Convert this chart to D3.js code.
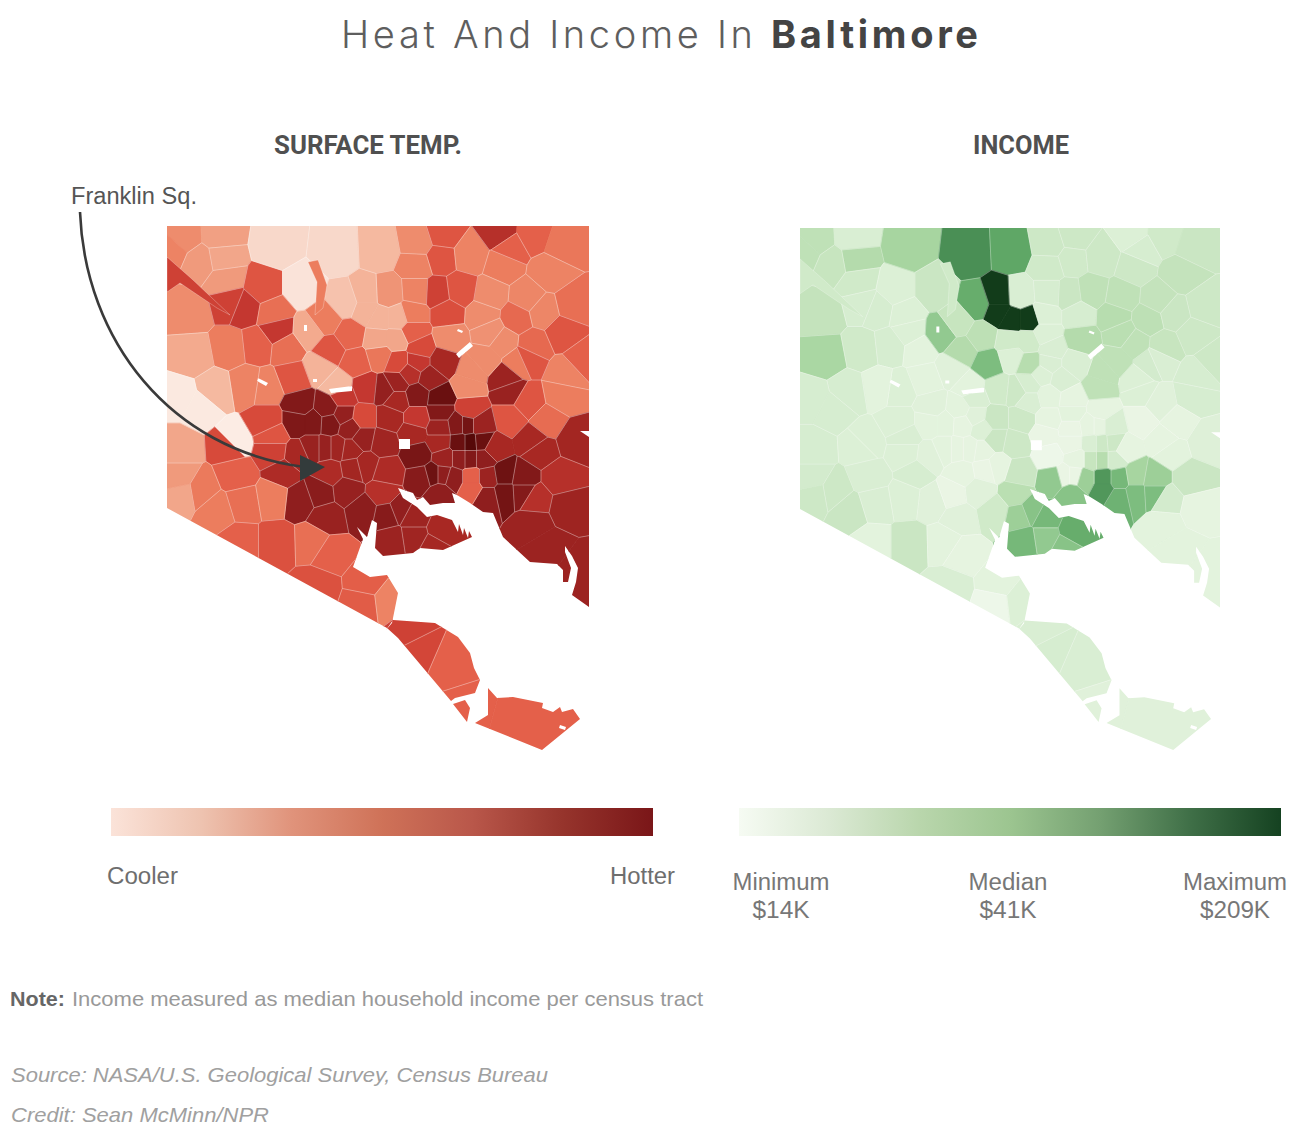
<!DOCTYPE html>
<html><head><meta charset="utf-8">
<script src="https://cdn.jsdelivr.net/npm/d3@7/dist/d3.min.js"></script>
<style>html,body{margin:0;padding:0;background:#fff}svg{display:block}</style>
</head><body><svg id="c" width="1296" height="1136"></svg>
<script>
// Census tract sample points (map units), with a relative heat index and income in $K
const tractX = [
183,172,220,222,200,225,263,277,337,380,302,
345,388,366,366,380,397,418,443,440,417,
470,500,533,503,510,563,550,573,527,490,417,437,460,413,
447,483,517,543,490,563,533,518,567,503,413,420,450,472,
417,443,410,430,527,505,510,527,563,583,417,440,440,470,
510,547,533,575,190,193,230,230,245,273,
277,257,287,309,320,338,293,267,247,215,180,200,233,180,
183,230,180,237,300,327,343,297,313,330,350,363,366,343,
385,397,397,390,363,383,417,440,413,440,418,458,467,480,
460,470,482,470,460,483,445,493,540,433,443,422,472,453,
487,505,522,505,487,522,472,440,560,535,567,533,578,548,
297,313,325,337,350,267,273,273,283,330,353,387,365,383,
300,320,347,327,363,387,400,413,393,413,443,433,
217,243,273,200,240,277,313,330,317,367,363,388,410,420,
450,465,520,
325,350,330,356,380,398,378,396,468,485];
const tractY = [
238,250,236,258,262,280,288,245,252,250,288,
302,294,295,310,318,318,243,235,258,265,
255,233,235,265,248,245,272,305,298,295,292,293,290,313,
313,315,318,312,332,332,345,362,375,342,332,348,338,372,
362,362,373,378,358,378,392,402,395,360,395,398,412,410,
418,422,440,440,312,355,348,302,308,313,
330,345,348,332,368,385,378,388,385,390,398,408,442,448,
493,445,478,475,405,408,415,422,422,423,428,418,388,397,
390,383,400,418,438,442,418,428,433,442,455,425,425,425,
443,443,442,458,458,458,458,448,450,475,475,478,478,478,
478,475,478,493,497,492,488,493,478,500,507,523,570,548,
455,448,448,448,450,422,435,452,472,472,468,472,465,493,
500,493,490,517,510,515,510,517,540,537,530,548,
510,502,497,490,543,543,542,553,587,583,603,600,630,650,
663,710,725,
320,335,350,362,355,362,340,340,385,360];
const tractHeat = [
3.5,3.8,2.8,2.6,3,3,5.5,1,1,2,0.6,
1.7,3.2,2.2,2.2,2.2,2.2,3.5,5.5,5.5,3.8,
3.8,7.5,5,4,5,4.2,3.8,4.5,3.7,3.5,3.8,6.5,5.5,4,
5.8,3.5,4.7,3.7,3.3,5.5,4.7,4,3.8,3.5,5,6,3.5,3.5,
7,8,7.5,8.5,5.5,8.5,8.6,5.5,4,5,9.5,10.5,9.5,6.5,
5.5,4.6,8,8.2,3.5,2.5,4,6.5,7,4.5,
7,5,4.5,2.5,2.2,2,5.5,3.8,3.8,2,0.4,0.4,0.3,2.6,
2.6,6,3,5,9.5,9.3,8.8,9.6,9.6,9.6,8.8,6,7,7,
8.8,8.5,8,8,8.7,8.3,7,8.5,8,8,9.8,9.5,10,8.5,
10.5,11.5,10.5,9.5,9,9,8.5,8,8,10.3,9,9.3,5,9,
8.5,10.3,9.5,10,9,9.4,5,9,7.5,7.5,8.4,8.5,8.5,8.5,
8,8.6,8.7,8.3,8.2,6,5.5,6.5,7.8,7.8,8.2,7.8,8.1,7.5,
9,9.2,8.7,8.6,9.1,9.3,8.9,8.4,8.5,8.3,8,8.1,
4,4.5,4,4.1,5,5.7,4.5,5,5.7,5.1,5.2,3.8,6.5,6.2,
5,5,5,
4,4.8,5.5,5,4.2,6,2.6,2.6,3.5,3.5];
const tractIncome = [
45,45,28,52,40,34,26,60,130,100,38,
95,28,209,209,209,209,36,36,34,34,
36,26,34,36,30,38,42,36,42,45,30,38,45,26,
30,50,46,38,48,36,40,32,30,45,26,28,52,45,
28,28,26,28,28,26,26,24,30,36,22,20,22,20,
18,20,20,25,42,58,34,30,30,26,
26,30,22,70,24,22,22,26,22,30,30,30,26,30,
36,26,32,28,24,22,24,22,22,20,26,38,34,28,
36,30,28,36,38,36,20,18,18,18,16,20,20,28,
28,36,36,50,40,32,20,20,22,18,18,70,120,65,
85,60,65,80,90,80,120,75,38,32,20,22,22,22,
24,22,20,20,20,26,28,26,30,20,18,38,20,48,
24,18,24,24,34,65,75,85,85,70,95,75,
38,28,26,36,22,38,22,20,28,22,16,26,28,30,
28,24,24,
40,46,52,80,26,50,34,34,45,45];

// Narrow tracts that a sample point cannot describe
const narrowShapes = [
  [[167,257],[193,280],[230,315],[217,308],[180,283],[167,292]],
  [[308,262],[318,260],[327,285],[323,308],[315,315],[317,282]]
];
const narrowHeat = [6.5,4], narrowIncome = [34,34];

// City outline, water and parks (map units)
const cityMain = [[167,226],[589,226],[589,431],[580,431],[589,437],[589,607],[572,595],[576,582],[578,568],[572,556],[565,546],[565,552],[571,568],[568,582],[563,582],[563,570],[557,564],[530,562],[517,550],[503,537],[493,513],[483,512],[470,503],[457,495],[452,493],[455,503],[443,503],[430,505],[423,497],[417,500],[413,493],[398,488],[403,498],[417,507],[427,517],[437,515],[452,520],[458,532],[459,524],[463,535],[464,528],[468,538],[469,531],[472,537],[443,550],[420,548],[413,553],[383,556],[375,548],[377,523],[372,520],[367,537],[357,527],[363,539],[353,567],[370,577],[387,575],[398,593],[392,623],[386,630],[393,620],[435,623],[458,637],[470,653],[474,668],[480,680],[475,693],[455,698],[451,701],[398,638],[387,628],[167,508]];
const cityIsland = [[453,704],[465,700],[470,708],[467,722]];
const citySouth = [[488,688],[497,698],[513,697],[543,703],[542,708],[553,712],[560,707],[562,712],[573,709],[580,719],[542,750],[475,723],[488,715]];
const parkHoles = [
[[456,354],[470,342],[473,346],[459,358]],
[[458,329],[463,331],[462,333],[457,331]],
[[258,378],[268,383],[266,386],[257,381]],
[[329,389],[352,386],[352,391],[331,393]],
[[313,379],[317,379],[317,382],[313,382]],
[[304,325],[307,325],[307,331],[304,331]],
[[399,439],[410,439],[410,449],[399,449]],
[[560,725],[566,727],[565,730],[559,728]]];

// Colour ramps
const heatStops = [0,1,2,3,4,5,6,7,8,9,10,11.5];
const heatColors = ["#fdf4ef","#f8d8ca","#f5b9a0","#f09a7c","#ec7d5e","#e4604a","#d74a3a","#c43730","#a82823","#8f1e1e","#741414","#560909"];
const incomeStops = [14,20,28,36,45,60,80,100,130,209];
const incomeColors = ["#f1f8ed","#e6f4e0","#d9eed3","#cde8c6","#bfe1b7","#a7d5a0","#7dbd7f","#5fa766","#4a8f55","#123c1a"];
const heatLegendColors = ["#fbe3d9","#eec3b0","#e0937b","#cf7258","#b9574a","#96342c","#7a1618"];
const incomeLegendColors = ["#f6fbf3","#dbe9d4","#b9d6ac","#9cc590","#74a071","#3f6f47","#154221"];

const titleLight = "Heat And Income In ", titleBold = "Baltimore";
const panelTitles = ["SURFACE TEMP.","INCOME"];
const heatLegendLabels = ["Cooler","Hotter"];
const incomeLegendLabels = [["Minimum","$14K"],["Median","$41K"],["Maximum","$209K"]];

const svg = d3.select("#c");
const heatColor = d3.scaleLinear().domain(heatStops).range(heatColors);
const incomeColor = d3.scaleLinear().domain(incomeStops).range(incomeColors);
const defs = svg.append("defs");

const sans = "'Liberation Sans',Arial,sans-serif";

function drawMap(id, left, right, top, values, color, narrowValues, lineOpacity){
  const x = d3.scaleLinear().domain([167,589]).range([left,right]);
  const y = d3.scaleLinear().domain([226,750]).range([top,750]);
  const ring = r => "M"+r.map(p=>x(p[0])+","+y(p[1])).join("L")+"Z";
  const land = [cityMain,cityIsland,citySouth,...parkHoles].map(ring).join("");
  defs.append("clipPath").attr("id",id).append("path").attr("d",land).attr("clip-rule","evenodd");
  const g = svg.append("g").attr("clip-path",`url(#${id})`);
  const pts = tractX.map((v,k)=>[x(v),y(tractY[k])]);
  const delaunay = d3.Delaunay.from(pts);
  const vor = delaunay.voronoi([x(150),y(210),x(610),y(770)]);
  g.selectAll("path.cell").data(values).join("path").attr("class","cell")
    .attr("d",(d,k)=>vor.renderCell(k))
    .attr("fill",d=>color(d)).attr("stroke",d=>color(d)).attr("stroke-width",.7);
  // white borders between tracts: Voronoi edges whose two sides differ
  const tri = delaunay.triangles, half = delaunay.halfedges, cc = vor.circumcenters;
  const p = d3.path();
  for(let e=0;e<half.length;e++){
    const o = half[e];
    if(o<e) continue;
    const a = tri[e], b = tri[o];
    if(tractHeat[a]===tractHeat[b] && tractIncome[a]===tractIncome[b]) continue;
    const t1 = Math.floor(e/3), t2 = Math.floor(o/3);
    p.moveTo(cc[2*t1],cc[2*t1+1]); p.lineTo(cc[2*t2],cc[2*t2+1]);
  }
  g.append("path").attr("d",p.toString()).attr("fill","none").attr("stroke","#fff")
    .attr("stroke-opacity",lineOpacity).attr("stroke-width",.8);
  g.selectAll("path.narrow").data(narrowShapes).join("path").attr("class","narrow")
    .attr("d",ring).attr("fill",(d,k)=>color(narrowValues[k])).attr("stroke","#fff")
    .attr("stroke-opacity",lineOpacity).attr("stroke-width",.6);
}
drawMap("clipHeat",167,589,226,tractHeat,heatColor,narrowHeat,.45);
drawMap("clipIncome",800,1220,228,tractIncome,incomeColor,narrowIncome,.4);

// Legend bars
function legend(id,colors,x0,x1){
  const grad = defs.append("linearGradient").attr("id",id);
  const pos = d3.scaleLinear().domain([0,colors.length-1]).range([0,100]);
  grad.selectAll("stop").data(colors).join("stop")
    .attr("offset",(d,k)=>pos(k)+"%").attr("stop-color",d=>d);
  svg.append("rect").attr("x",x0).attr("y",808).attr("width",x1-x0).attr("height",28).attr("fill",`url(#${id})`);
}
legend("gHeat",heatLegendColors,111,653);
legend("gIncome",incomeLegendColors,739,1281);

function label(t,x,y,size,color,len,opt={}){
  const s = svg.append("text").attr("x",x).attr("y",y).text(t)
    .attr("font-family",opt.family||sans).attr("font-size",size).attr("fill",color)
    .attr("font-weight",opt.weight||400).attr("font-style",opt.style||"normal")
    .attr("text-anchor",opt.anchor||"start");
  if(len) s.attr("textLength",len).attr("lengthAdjust","spacingAndGlyphs");
  return s;
}

// Title
const title = svg.append("text").attr("x",341).attr("y",48).attr("font-family","Inter,'Open Sans',sans-serif")
  .attr("font-size",38).attr("fill","#5e5e5e").attr("textLength",637).attr("lengthAdjust","spacing");
title.append("tspan").text(titleLight).attr("font-weight",300);
title.append("tspan").text(titleBold).attr("font-weight",700).attr("fill","#444");

// Panel heads
label(panelTitles[0],274,154,25,"#505050",188,{family:"Roboto,sans-serif",weight:700});
label(panelTitles[1],973,154,25,"#505050",96,{family:"Roboto,sans-serif",weight:700});

// Annotation
label("Franklin Sq.",71,204,23,"#555",126);
const arrow = d3.path();
arrow.moveTo(80,212);
arrow.bezierCurveTo(85,340,170,450,305,467);
svg.append("path").attr("d",arrow.toString()).attr("fill","none").attr("stroke","#3a3a3a").attr("stroke-width",2.6);
svg.append("path").attr("d",d3.line()([[300,455],[325,467],[300,481]])+"Z").attr("fill","#333b3b");

// Legend labels
label(heatLegendLabels[0],107,884,23,"#6e6e6e",71);
label(heatLegendLabels[1],610,884,23,"#6e6e6e",65);
const incCenters = [781,1008,1235], incWidths = [[97,57],[79,57],[104,70]];
incomeLegendLabels.forEach((pair,k)=>{
  label(pair[0],incCenters[k],890,23,"#777",incWidths[k][0],{anchor:"middle"});
  label(pair[1],incCenters[k],918,23,"#777",incWidths[k][1],{anchor:"middle"});
});

// Footnotes
label("Note:",10,1006,21,"#666",55,{weight:700});
label("Income measured as median household income per census tract",72,1006,21,"#999",631);
label("Source: NASA/U.S. Geological Survey, Census Bureau",11,1082,21,"#a0a0a0",537,{style:"italic"});
label("Credit: Sean McMinn/NPR",11,1122,21,"#a0a0a0",258,{style:"italic"});
</script></body></html>
